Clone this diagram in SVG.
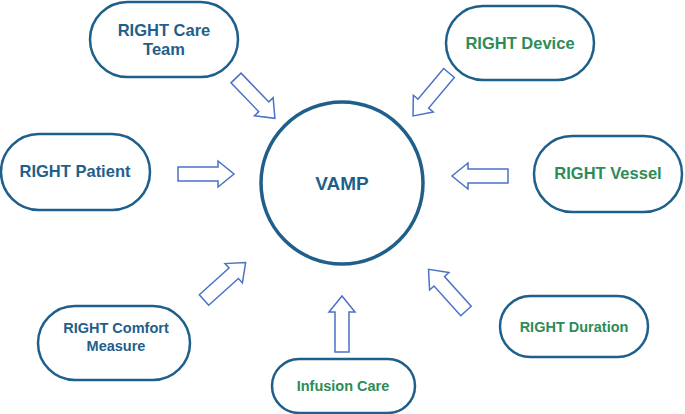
<svg xmlns="http://www.w3.org/2000/svg" width="685" height="414" viewBox="0 0 685 414">
<style>
.n{fill:#fff;stroke:#1f5f8b;stroke-width:2.5}
.t{font-family:"Liberation Sans",Arial,sans-serif;font-weight:bold;font-size:16.5px;text-anchor:middle}
.s{font-size:14.5px}
.b{fill:#1f5f8b}.g{fill:#2e8b57}
.a{fill:#fff;stroke:#4a72c8;stroke-width:1.5}
</style>
<defs><path id="ar" d="M0,-7 L40,-7 L40,-13 L56,0 L40,13 L40,7 L0,7 Z"/></defs>
<rect width="685" height="414" fill="#fff"/>
<g id="connectors">
<use href="#ar" class="a" transform="translate(236,78) rotate(46)"/>
<use href="#ar" class="a" transform="translate(449,73) rotate(130)"/>
<use href="#ar" class="a" transform="translate(178,174)"/>
<use href="#ar" class="a" transform="translate(508,176) rotate(180)"/>
<use href="#ar" class="a" transform="translate(204,300) rotate(-42)"/>
<use href="#ar" class="a" transform="translate(342,352) rotate(-90)"/>
<use href="#ar" class="a" transform="translate(466,311) rotate(-132)"/>
</g>
<g id="vamp"><circle class="n" cx="342" cy="183" r="81" style="stroke-width:3.5"/><text class="t b" x="342" y="190" style="font-size:19px">VAMP</text></g>
<g id="care"><rect class="n" x="90" y="2" width="148" height="75" rx="37.5"/><text class="t b" x="164" y="36">RIGHT Care</text><text class="t b" x="164" y="55">Team</text></g>
<g id="device"><rect class="n" x="446" y="6" width="148" height="74" rx="37"/><text class="t g" x="520" y="49">RIGHT Device</text></g>
<g id="patient"><rect class="n" x="1" y="134" width="149" height="76" rx="38"/><text class="t b" x="75" y="177">RIGHT Patient</text></g>
<g id="vessel"><rect class="n" x="534" y="136" width="148" height="76" rx="38"/><text class="t g" x="608" y="179">RIGHT Vessel</text></g>
<g id="comfort"><rect class="n" x="38" y="306" width="152" height="74" rx="37"/><text class="t b s" x="116" y="333">RIGHT Comfort</text><text class="t b s" x="116" y="351">Measure</text></g>
<g id="infusion"><rect class="n" x="272" y="359" width="143" height="54" rx="27"/><text class="t g s" x="343" y="391">Infusion Care</text></g>
<g id="duration"><rect class="n" x="500" y="296" width="148" height="61" rx="30.5"/><text class="t g s" x="574" y="332">RIGHT Duration</text></g>
</svg>
